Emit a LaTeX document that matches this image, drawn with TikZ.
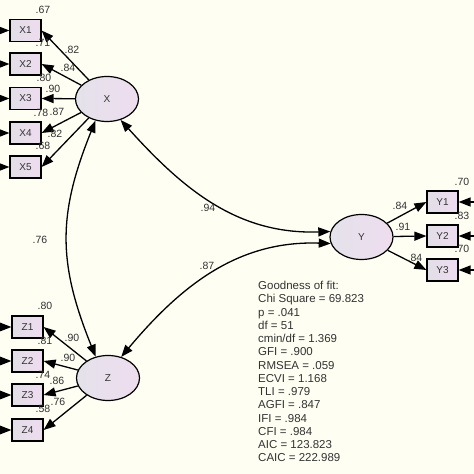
\documentclass[tikz,border=0pt]{standalone}
\usepackage{fontspec}
\setmainfont{Liberation Sans}
\usepackage{tikz}
\usetikzlibrary{positioning, calc, arrows.meta, shapes.geometric}

\definecolor{paper}{HTML}{FEFEF3}
\definecolor{boxL}{HTML}{E2DEE6}
\definecolor{boxR}{HTML}{EEDCF0}
\definecolor{latL}{HTML}{E4E2EA}
\definecolor{latR}{HTML}{EEDDEF}
\definecolor{ink}{HTML}{333333}

\begin{document}
\begin{tikzpicture}[
  x=1pt, y=1pt,
  font=\fontsize{10.5}{12}\selectfont,
  head/.tip={Triangle[length=12pt, width=9pt]},
  obsbox/.style={rectangle, draw, line width=1.2pt, left color=boxL, right color=boxR,
                 minimum width=31pt, minimum height=22pt, inner sep=0pt,
                 font=\fontsize{10}{11}\selectfont, text=ink},
  latent/.style={ellipse, draw, line width=1.2pt, left color=latL, right color=latR,
                 minimum width=63pt, minimum height=45pt, inner sep=0pt,
                 font=\fontsize{10}{11}\selectfont, text=ink},
  load/.style={-{head}, line width=1.3pt},
  errarr/.style={-{head}, line width=1.3pt},
  cov/.style={{head}-{head}, line width=1.3pt},
  coef/.style={text=ink, inner sep=0pt},
  fitnote/.style={text=ink, align=left, anchor=north west, inner sep=0pt,
                  font=\fontsize{11.5}{13.25}\selectfont}
]
\fill[paper] (0,0) rectangle (474,474);
\useasboundingbox (0,0) rectangle (474,474);

% --- latent variables ---
\node[latent] (X) at (107,375) {X};
\node[latent] (Z) at (108,96) {Z};
\node[latent] (Y) at (361.5,237) {Y};

% --- indicators of X ---
\node[obsbox] (X1) at (25.5,443.5) {X1};
\node[obsbox] (X2) at (25.5,410) {X2};
\node[obsbox] (X3) at (25.5,375.5) {X3};
\node[obsbox] (X4) at (25.5,341) {X4};
\node[obsbox] (X5) at (25.5,307) {X5};

% --- indicators of Z ---
\node[obsbox] (Z1) at (27.5,147) {Z1};
\node[obsbox] (Z2) at (27.5,113) {Z2};
\node[obsbox] (Z3) at (27.5,79) {Z3};
\node[obsbox] (Z4) at (27.5,44) {Z4};

% --- indicators of Y ---
\node[obsbox] (Y1) at (442.5,272) {Y1};
\node[obsbox] (Y2) at (442.5,238) {Y2};
\node[obsbox] (Y3) at (442.5,204) {Y3};

% --- error terms (off the page edge) ---
\foreach \b in {X1,X2,X3,X4,X5,Z1,Z2,Z3,Z4} {
  \coordinate (e\b) at (\b.west -| 0,0);
  \draw[errarr] (e\b) -- (\b.west);
}
\foreach \b in {Y1,Y2,Y3} {
  \coordinate (e\b) at (\b.east -| 474,0);
  \draw[errarr] (e\b) -- (\b.east);
}

% --- loadings ---
\foreach \b in {X1,X2,X3,X4,X5} \draw[load] (X) -- (\b.east);
\foreach \b in {Z1,Z2,Z3,Z4} \draw[load] (Z) -- (\b.east);
\foreach \b in {Y1,Y2,Y3} \draw[load] (Y) -- (\b.west);

% --- correlations ---
\draw[cov] (X.-57) to[out=-48, in=182] (Y.170);
\draw[cov] (Z.58) to[out=50, in=178] (Y.192);
\draw[cov] (X.-118) to[out=-112, in=112, looseness=1.1] (Z.120);

% --- coefficients ---
\node[coef] (rX1) at (43,464) {.67};
\node[coef] (rX2) at (43,431) {.71};
\node[coef] (rX3) at (44,396) {.80};
\node[coef] (rX4) at (41,361) {.78};
\node[coef] (rX5) at (43,328) {.68};
\node[coef] (lX1) at (72,424) {.82};
\node[coef] (lX2) at (68,406) {.84};
\node[coef] (lX3) at (53,385) {.90};
\node[coef] (lX4) at (57,362) {.87};
\node[coef] (lX5) at (55,340) {.82};

\node[coef] (rZ1) at (45,168) {.80};
\node[coef] (rZ2) at (45,133) {.81};
\node[coef] (rZ3) at (43,99) {.74};
\node[coef] (rZ4) at (43,65) {.58};
\node[coef] (lZ1) at (72,136) {.90};
\node[coef] (lZ2) at (68,116) {.90};
\node[coef] (lZ3) at (57,93) {.86};
\node[coef] (lZ4) at (58,72) {.76};

\node[coef] (rY1) at (462,292) {.70};
\node[coef] (rY2) at (462,258) {.83};
\node[coef] (rY3) at (462,225) {.70};
\node[coef] (lY1) at (400,268) {.84};
\node[coef] (lY2) at (403,247) {.91};
\node[coef] (lY3) at (415,216) {.84};

\node[coef] (cXY) at (208,266) {.94};
\node[coef] (cZY) at (207,208) {.87};
\node[coef] (cXZ) at (40,234) {.76};

% --- fit indices ---
\node[fitnote] (fit) at (258,193) {%
  Goodness of fit:\\
  Chi Square = 69.823\\
  p = .041\\
  df = 51\\
  cmin/df = 1.369\\
  GFI = .900\\
  RMSEA = .059\\
  ECVI = 1.168\\
  TLI = .979\\
  AGFI = .847\\
  IFI = .984\\
  CFI = .984\\
  AIC = 123.823\\
  CAIC = 222.989};

\end{tikzpicture}
\end{document}
